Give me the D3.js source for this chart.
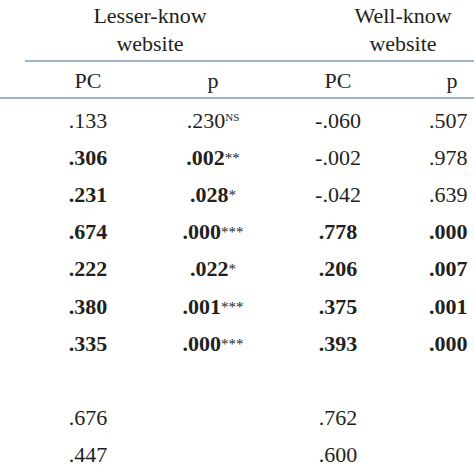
<!DOCTYPE html><html><head><meta charset="utf-8"><script src="https://cdn.jsdelivr.net/npm/d3@7"></script>
<style>body{margin:0;background:#fff}svg{display:block;font-family:"Liberation Serif","DejaVu Serif",serif}</style></head><body><script>
const groups=["Lesser-know","Well-know"];
const subHeads=["PC","p","PC","p"];
const lesserPC=[".133",".306",".231",".674",".222",".380",".335",null,".676",".447"];
const lesserP=[".230",".002",".028",".000",".022",".001",".000",null,null,null];
const lesserSig=["NS","**","*","***","*","***","***",null,null,null];
const wellPC=["-.060","-.002","-.042",".778",".206",".375",".393",null,".762",".600"];
const wellP=[".507",".978",".639",".000",".007",".001",".000",null,null,null];
const lesserBold=[0,1,1,1,1,1,1,0,0,0];
const wellBold=[0,0,0,1,1,1,1,0,0,0];

const W=474,H=474;
const svg=d3.select("body").append("svg").attr("width",W).attr("height",H);
const y=d3.scaleLinear().domain([0,9]).range([121,455]);
const x=d3.scalePoint().domain([0,1,2,3]).range([88,213+125*2]);
const col="#231f20",fs=22;
svg.append("line").attr("x1",25).attr("x2",W).attr("y1",61).attr("y2",61).attr("stroke","#7f9db3").attr("stroke-width",1.3);
svg.append("line").attr("x1",0).attr("x2",W).attr("y1",98).attr("y2",98).attr("stroke","#7f9db3").attr("stroke-width",1.3);
const gx=[150,403];
groups.forEach((g,i)=>{
 svg.append("text").attr("x",gx[i]).attr("y",23).attr("text-anchor","middle").attr("font-size",fs).attr("fill",col).text(g);
 svg.append("text").attr("x",gx[i]).attr("y",51).attr("text-anchor","middle").attr("font-size",fs).attr("fill",col).text("website");
});
subHeads.forEach((s,i)=>svg.append("text").attr("x",[88,213,338,452][i]).attr("y",88).attr("text-anchor","middle").attr("font-size",fs).attr("fill",col).text(s));
function cell(cx,row,val,sig,bold,anchor){
 if(val==null)return;
 const t=svg.append("text").attr("x",cx).attr("y",y(row)+7).attr("text-anchor",anchor).attr("font-size",fs)
  .attr("fill",col).attr("font-weight",bold?"bold":"normal").text(val);
 if(sig){t.append("tspan").attr("dy",sig==="NS"?-7:-2).attr("font-size",sig==="NS"?11:15).attr("font-weight","normal").text(sig);}
}
lesserPC.forEach((v,i)=>cell(x(0),i,v,null,lesserBold[i],"middle"));
lesserP.forEach((v,i)=>cell(x(1),i,v,lesserSig[i],lesserBold[i],"middle"));
wellPC.forEach((v,i)=>cell(x(2),i,v,null,wellBold[i],"middle"));
wellP.forEach((v,i)=>cell(429,i,v,null,wellBold[i],"start"));
</script></body></html>
